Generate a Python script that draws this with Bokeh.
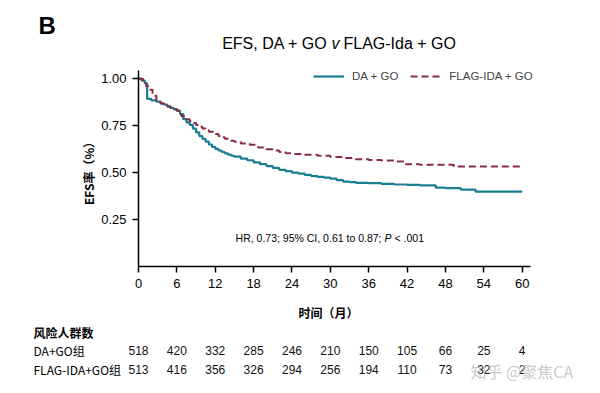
import math
from bokeh.plotting import figure
from bokeh.models import Range1d, Legend, LegendItem, FixedTicker, LinearAxis, ColumnDataSource
from bokeh.core.properties import value
from bokeh.embed import file_html
from bokeh.resources import INLINE

# ---- data ----
months = [0, 6, 12, 18, 24, 30, 36, 42, 48, 54, 60]
y_ticks = [0.25, 0.50, 0.75, 1.00]

da_t = [0, 0.5, 1.0, 1.35, 2, 2.8, 3.5, 4, 4.5, 5, 5.5, 6, 6.5, 7.0, 7.5, 8, 8.5, 9,
        9.5, 10, 10.5, 11, 11.5, 12, 12.5, 13, 13.5, 14, 14.5, 15, 16, 17, 18, 19, 20,
        21, 22, 23, 24, 25, 26, 27, 28, 29, 30, 31, 32, 33, 34, 36, 38, 40, 42, 44,
        46.5, 48, 50.4, 52.7, 60]
da_s = [1.0, 0.99, 0.975, 0.893, 0.885, 0.878, 0.868, 0.862, 0.853, 0.845, 0.838, 0.83,
        0.812, 0.785, 0.768, 0.755, 0.735, 0.715, 0.695, 0.68, 0.665, 0.65, 0.637, 0.627,
        0.618, 0.61, 0.603, 0.596, 0.59, 0.585, 0.575, 0.566, 0.555, 0.545, 0.535,
        0.525, 0.515, 0.508, 0.50, 0.495, 0.488, 0.482, 0.478, 0.474, 0.468, 0.46,
        0.452, 0.449, 0.446, 0.444, 0.440, 0.437, 0.435, 0.432, 0.42, 0.418, 0.41,
        0.399, 0.399]

flag_t = [0, 0.7, 1.2, 1.6, 2.2, 2.8, 3.5, 4, 4.5, 5, 5.5, 6, 6.7, 7.5, 8, 8.5, 9, 9.5,
          10, 10.5, 11, 11.7, 12.5, 13, 13.5, 14.3, 15, 16, 17.4, 18.7, 20, 21, 22, 23,
          24, 26, 28, 30, 32, 34, 36, 38, 40, 41.8, 44, 49.3, 60]
flag_s = [1.0, 0.985, 0.96, 0.942, 0.91, 0.875, 0.868, 0.86, 0.853, 0.845, 0.838, 0.83,
          0.80, 0.785, 0.775, 0.765, 0.754, 0.745, 0.735, 0.727, 0.718, 0.706, 0.695,
          0.688, 0.68, 0.67, 0.665, 0.655, 0.648, 0.634, 0.625, 0.618, 0.61, 0.603,
          0.60, 0.595, 0.59, 0.584, 0.578, 0.572, 0.568, 0.565, 0.56, 0.545, 0.542,
          0.533, 0.533]

risk_da = [518, 420, 332, 285, 246, 210, 150, 105, 66, 25, 4]
risk_flag = [513, 416, 356, 326, 294, 256, 194, 110, 73, 32, 2]

series_names = ["DA + GO", "FLAG-IDA + GO"]
row_names = ["DA+GO组", "FLAG-IDA+GO组"]

TEAL = "#1b7d92"
RED = "#8a2c48"
LAT = "Liberation Sans"
CJK = "Noto Sans CJK SC"

# ---- layout constants (pixels) ----
W, H = 584, 385
X0_PX, X1_PX = 138, 530        # where month 0 and the axis end sit
XMAX = 61.3
SX = (X1_PX - X0_PX) / XMAX    # px per month
Y0_PX, YS = 266, 187.7         # pixel row of EFS 0, px per unit
YMAX = 1.044


def px2x(px):
    return (px - X0_PX) / SX


def py2y(py):
    return (Y0_PX - py) / YS


p = figure(width=W, height=H, output_backend="svg", toolbar_location=None,
           x_range=Range1d(px2x(0), px2x(W)), y_range=Range1d(py2y(H), py2y(0)),
           min_border=0, x_axis_type=None, y_axis_type=None)
p.outline_line_color = None
p.grid.visible = False

xa = LinearAxis(ticker=FixedTicker(ticks=months), fixed_location=0, bounds=(0, XMAX))
ya = LinearAxis(ticker=FixedTicker(ticks=y_ticks), fixed_location=0, bounds=(0, YMAX))
for ax in (xa, ya):
    ax.axis_line_width = 1.5
    ax.major_tick_line_width = 1.5
    ax.major_tick_in = 0
    ax.major_tick_out = 6
    ax.minor_tick_line_color = None
    ax.major_label_text_font = LAT
    ax.major_label_text_font_size = "13px"
    ax.major_label_text_color = "black"
    ax.major_label_standoff = 6
ya.major_label_overrides = {v: f"{v:.2f}" for v in y_ticks}
p.add_layout(xa, "below")
p.add_layout(ya, "left")

r1 = p.step(da_t, da_s, mode="after", line_color=TEAL, line_width=2.2)
r2 = p.step(flag_t, flag_s, mode="after", line_color=RED, line_width=2, line_dash="7 4")

leg = Legend(items=[LegendItem(label=series_names[0], renderers=[r1]),
                    LegendItem(label=series_names[1], renderers=[r2])],
             orientation="horizontal", location=(313, H - 82),
             background_fill_alpha=0, border_line_color=None,
             padding=0, margin=0, spacing=12, glyph_width=31, glyph_height=12,
             label_height=12, label_standoff=8,
             label_text_font=LAT, label_text_font_size="11.5px")
p.add_layout(leg)


def put(px, py, text, size="12px", font=LAT, style="normal", align="left",
        color="black", alpha=1.0, angle=0.0):
    p.text(x=[px2x(px)], y=[py2y(py)], text=[text], text_font=value(font),
           text_font_size=size, text_font_style=style, text_align=align,
           text_baseline="middle", text_color=color, text_alpha=alpha, angle=angle)


# panel letter + title
put(38, 25, "B", size="24px", style="bold")
put(327, 43, "EFS, DA + GO", size="16px", align="right")
put(331, 43, "v", size="16px", style="italic")
put(343, 43, "FLAG-Ida + GO", size="16px")

# axis titles
put(88, 170, "EFS率（%）", size="12px", font=CJK, style="bold", align="center",
    angle=math.pi / 2)
put(328, 311.7, "时间（月）", size="12px", font=CJK, style="bold", align="center")

# HR annotation
put(381, 237, "HR, 0.73; 95% CI, 0.61 to 0.87;", size="10.5px", align="right")
put(384, 237, "P", size="10.5px", style="italic")
put(394, 237, "< .001", size="10.5px")

# number at risk table
put(33, 331.7, "风险人群数", size="12px", font=CJK, style="bold")
put(33, 350, row_names[0], size="12px", font=CJK)
put(33, 368.5, row_names[1], size="12px", font=CJK)
src = ColumnDataSource(dict(m=months, a=[str(v) for v in risk_da],
                            b=[str(v) for v in risk_flag],
                            ya=[py2y(350)] * len(months), yb=[py2y(368.5)] * len(months)))
p.text(x="m", y="ya", text="a", source=src, text_font=value(LAT), text_font_size="12px",
       text_align="center", text_baseline="middle", text_color="#111111")
p.text(x="m", y="yb", text="b", source=src, text_font=value(LAT), text_font_size="12px",
       text_align="center", text_baseline="middle", text_color="#111111")

# watermark
put(470, 370, "知乎 @聚焦CA", size="16px", font=CJK, color="#bbbbbb", alpha=0.8)

open("out.html", "w").write(file_html(p, INLINE))
